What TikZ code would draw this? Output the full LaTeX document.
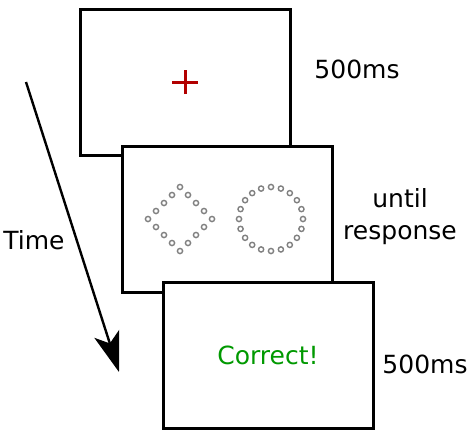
\documentclass[tikz,border=0pt]{standalone}
\usepackage{fontspec}
\setmainfont{DejaVu Sans}
\usetikzlibrary{arrows.meta}

\begin{document}
\begin{tikzpicture}[
					x=1pt, y=-1pt,
					frame/.style={draw, line width=3pt, fill=white, minimum width=210pt, minimum height=146pt, inner sep=0pt},
					cross/.style={line width=3pt, color=red!70!black},
					dot/.style={draw=gray, line width=1.4pt},
					lbl/.style={font=\fontsize{25}{32}\selectfont, align=center, inner sep=0pt},
					timearrow/.style={line width=2.4pt, -{Stealth[length=40pt, width=26pt, inset=10pt]}}
				]
				% Parámetros de geometría
				\def\r{32}       % radio de los estímulos
				\def\d{2.6}      % radio de cada punto

				\useasboundingbox (0,0) rectangle (474,437);

				% --- Pantalla 1: fijación ---
				\node[frame] (fix) at (185,82) {};
				\draw[cross] ([xshift=-13pt]fix.center) -- ([xshift=13pt]fix.center);
				\draw[cross] ([yshift=-12pt]fix.center) -- ([yshift=12pt]fix.center);

				% --- Pantalla 2: estímulos ---
				\node[frame] (stim) at (227,219) {};
				\begin{scope}[shift={(stim.center)}, xshift=-47pt]
					\foreach \a in {0,90,180,270}
						\foreach \k in {0,1,2,3}
							\draw[dot] ({\r*cos(\a)*(1-\k/4)+\r*cos(\a+90)*\k/4}, {\r*sin(\a)*(1-\k/4)+\r*sin(\a+90)*\k/4}) circle (\d pt);
				\end{scope}
				\begin{scope}[shift={(stim.center)}, xshift=44pt]
					\foreach \a in {0,18,...,342}
						\draw[dot] (\a:\r) circle (\d pt);
				\end{scope}

				% --- Pantalla 3: retroalimentación ---
				\node[frame] (fb) at (268,355) {};
				\node[lbl, text=green!60!black] (correct) at (fb.center) {Correct!};

				% --- Duraciones ---
				\node[lbl] (dur1) at (357,69) {500ms};
				\node[lbl] (dur2) at (400,217) {until\\response};
				\node[lbl] (dur3) at (425,364) {500ms};

				% --- Eje temporal ---
				\coordinate (t0) at (26,82);
				\coordinate (t1) at (119,372);
				\draw[timearrow] (t0) -- (t1);
				\node[lbl] (time) at (34,240) {Time};

			\end{tikzpicture}
\end{document}
